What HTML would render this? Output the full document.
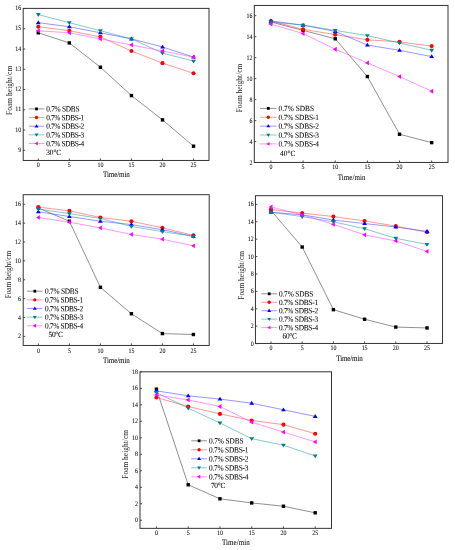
<!DOCTYPE html>
<html lang="en"><head><meta charset="utf-8"><title>Foam height vs time</title>
<style>html,body{margin:0;padding:0;background:#fff}svg{display:block}text{stroke:#000;stroke-width:.05px}</style></head>
<body>
<svg width="455" height="550" viewBox="0 0 455 550" font-family="'Liberation Serif', serif" fill="#000">
<rect width="455" height="550" fill="#ffffff"/>
<g>
<path d="M38.30,160.45v-2 M69.35,160.45v-2 M100.40,160.45v-2 M131.45,160.45v-2 M162.50,160.45v-2 M193.55,160.45v-2 M23.20,150.25h2 M23.20,130.00h2 M23.20,109.75h2 M23.20,89.50h2 M23.20,69.25h2 M23.20,49.00h2 M23.20,28.75h2 M23.20,8.50h2" stroke="#222" stroke-width="0.8" fill="none"/>
<text transform="translate(36.82,166.88) rotate(0.03)" font-size="6.9" text-anchor="start" textLength="2.97" lengthAdjust="spacingAndGlyphs">0</text>
<text transform="translate(67.87,166.88) rotate(0.03)" font-size="6.9" text-anchor="start" textLength="2.97" lengthAdjust="spacingAndGlyphs">5</text>
<text transform="translate(97.43,166.88) rotate(0.03)" font-size="6.9" text-anchor="start" textLength="5.93" lengthAdjust="spacingAndGlyphs">10</text>
<text transform="translate(128.48,166.88) rotate(0.03)" font-size="6.9" text-anchor="start" textLength="5.93" lengthAdjust="spacingAndGlyphs">15</text>
<text transform="translate(159.53,166.88) rotate(0.03)" font-size="6.9" text-anchor="start" textLength="5.93" lengthAdjust="spacingAndGlyphs">20</text>
<text transform="translate(190.58,166.88) rotate(0.03)" font-size="6.9" text-anchor="start" textLength="5.93" lengthAdjust="spacingAndGlyphs">25</text>
<text transform="translate(18.33,151.83) rotate(0.03)" font-size="6.9" text-anchor="start" textLength="2.97" lengthAdjust="spacingAndGlyphs">9</text>
<text transform="translate(15.37,131.58) rotate(0.03)" font-size="6.9" text-anchor="start" textLength="5.93" lengthAdjust="spacingAndGlyphs">10</text>
<text transform="translate(15.37,111.33) rotate(0.03)" font-size="6.9" text-anchor="start" textLength="5.93" lengthAdjust="spacingAndGlyphs">11</text>
<text transform="translate(15.37,91.08) rotate(0.03)" font-size="6.9" text-anchor="start" textLength="5.93" lengthAdjust="spacingAndGlyphs">12</text>
<text transform="translate(15.37,70.83) rotate(0.03)" font-size="6.9" text-anchor="start" textLength="5.93" lengthAdjust="spacingAndGlyphs">13</text>
<text transform="translate(15.37,50.58) rotate(0.03)" font-size="6.9" text-anchor="start" textLength="5.93" lengthAdjust="spacingAndGlyphs">14</text>
<text transform="translate(15.37,30.33) rotate(0.03)" font-size="6.9" text-anchor="start" textLength="5.93" lengthAdjust="spacingAndGlyphs">15</text>
<text transform="translate(15.37,10.08) rotate(0.03)" font-size="6.9" text-anchor="start" textLength="5.93" lengthAdjust="spacingAndGlyphs">16</text>
<polyline points="38.30,32.80 69.35,42.92 100.40,67.23 131.45,95.58 162.50,119.88 193.55,146.20" fill="none" stroke="#222222" stroke-width="0.5"/>
<rect x="36.60" y="31.10" width="3.40" height="3.40" fill="#000000"/>
<rect x="67.65" y="41.22" width="3.40" height="3.40" fill="#000000"/>
<rect x="98.70" y="65.53" width="3.40" height="3.40" fill="#000000"/>
<rect x="129.75" y="93.88" width="3.40" height="3.40" fill="#000000"/>
<rect x="160.80" y="118.17" width="3.40" height="3.40" fill="#000000"/>
<rect x="191.85" y="144.50" width="3.40" height="3.40" fill="#000000"/>
<polyline points="38.30,26.73 69.35,30.77 100.40,36.85 131.45,51.02 162.50,63.17 193.55,73.30" fill="none" stroke="#ff3030" stroke-width="0.5"/>
<circle cx="38.30" cy="26.73" r="2.05" fill="#ff0000"/>
<circle cx="69.35" cy="30.77" r="2.05" fill="#ff0000"/>
<circle cx="100.40" cy="36.85" r="2.05" fill="#ff0000"/>
<circle cx="131.45" cy="51.02" r="2.05" fill="#ff0000"/>
<circle cx="162.50" cy="63.17" r="2.05" fill="#ff0000"/>
<circle cx="193.55" cy="73.30" r="2.05" fill="#ff0000"/>
<polyline points="38.30,22.67 69.35,26.73 100.40,32.80 131.45,38.88 162.50,46.98 193.55,57.10" fill="none" stroke="#3030ff" stroke-width="0.5"/>
<polygon points="38.30,20.32 40.70,24.17 35.90,24.17" fill="#0000ff"/>
<polygon points="69.35,24.38 71.75,28.23 66.95,28.23" fill="#0000ff"/>
<polygon points="100.40,30.45 102.80,34.30 98.00,34.30" fill="#0000ff"/>
<polygon points="131.45,36.52 133.85,40.38 129.05,40.38" fill="#0000ff"/>
<polygon points="162.50,44.63 164.90,48.48 160.10,48.48" fill="#0000ff"/>
<polygon points="193.55,54.75 195.95,58.60 191.15,58.60" fill="#0000ff"/>
<polyline points="38.30,14.58 69.35,22.67 100.40,30.77 131.45,38.88 162.50,53.05 193.55,61.15" fill="none" stroke="#109090" stroke-width="0.5"/>
<polygon points="38.30,16.93 40.70,13.08 35.90,13.08" fill="#008080"/>
<polygon points="69.35,25.02 71.75,21.17 66.95,21.17" fill="#008080"/>
<polygon points="100.40,33.12 102.80,29.27 98.00,29.27" fill="#008080"/>
<polygon points="131.45,41.23 133.85,37.38 129.05,37.38" fill="#008080"/>
<polygon points="162.50,55.40 164.90,51.55 160.10,51.55" fill="#008080"/>
<polygon points="193.55,63.50 195.95,59.65 191.15,59.65" fill="#008080"/>
<polyline points="38.30,30.77 69.35,32.80 100.40,38.88 131.45,44.95 162.50,51.02 193.55,57.10" fill="none" stroke="#ff30ff" stroke-width="0.5"/>
<polygon points="35.95,30.77 39.80,28.37 39.80,33.17" fill="#ff00ff"/>
<polygon points="67.00,32.80 70.85,30.40 70.85,35.20" fill="#ff00ff"/>
<polygon points="98.05,38.88 101.90,36.48 101.90,41.27" fill="#ff00ff"/>
<polygon points="129.10,44.95 132.95,42.55 132.95,47.35" fill="#ff00ff"/>
<polygon points="160.15,51.02 164.00,48.62 164.00,53.42" fill="#ff00ff"/>
<polygon points="191.20,57.10 195.05,54.70 195.05,59.50" fill="#ff00ff"/>
<rect x="23.20" y="8.40" width="185.80" height="152.05" fill="none" stroke="#333" stroke-width="1"/>
<path d="M28.80,108.90H44.20" stroke="#222222" stroke-width="0.5"/>
<rect x="35.11" y="107.51" width="2.79" height="2.79" fill="#000000"/>
<text transform="translate(46.20,111.54) rotate(0.03) scale(0.92,1)" font-size="8.0" text-anchor="start" textLength="36.30" lengthAdjust="spacing">0.7% SDBS</text>
<path d="M28.80,117.55H44.20" stroke="#ff3030" stroke-width="0.5"/>
<circle cx="36.50" cy="117.55" r="1.68" fill="#ff0000"/>
<text transform="translate(46.20,120.19) rotate(0.03) scale(0.92,1)" font-size="8.0" text-anchor="start" textLength="41.30" lengthAdjust="spacing">0.7% SDBS-1</text>
<path d="M28.80,126.20H44.20" stroke="#3030ff" stroke-width="0.5"/>
<polygon points="36.50,124.27 38.47,127.43 34.53,127.43" fill="#0000ff"/>
<text transform="translate(46.20,128.84) rotate(0.03) scale(0.92,1)" font-size="8.0" text-anchor="start" textLength="41.30" lengthAdjust="spacing">0.7% SDBS-2</text>
<path d="M28.80,134.85H44.20" stroke="#109090" stroke-width="0.5"/>
<polygon points="36.50,136.78 38.47,133.62 34.53,133.62" fill="#008080"/>
<text transform="translate(46.20,137.49) rotate(0.03) scale(0.92,1)" font-size="8.0" text-anchor="start" textLength="41.30" lengthAdjust="spacing">0.7% SDBS-3</text>
<path d="M28.80,143.50H44.20" stroke="#ff30ff" stroke-width="0.5"/>
<polygon points="34.57,143.50 37.73,141.53 37.73,145.47" fill="#ff00ff"/>
<text transform="translate(46.20,146.14) rotate(0.03) scale(0.92,1)" font-size="8.0" text-anchor="start" textLength="41.30" lengthAdjust="spacing">0.7% SDBS-4</text>
<text transform="translate(46.30,154.94) rotate(0.03) scale(0.92,1)" font-size="8.0" text-anchor="start" textLength="16.09" lengthAdjust="spacing">30°C</text>
<text transform="translate(103.00,177.25) rotate(0.03) scale(0.86,1)" font-size="8.2" text-anchor="start" textLength="31.16" lengthAdjust="spacing">Time/min</text>
<text transform="translate(11.80,114.90) rotate(-90) scale(0.94,1)" font-size="7.8" textLength="52.13" lengthAdjust="spacing" style="stroke:none" fill="#2b2b2b">Foam height/cm</text>
</g>
<g>
<path d="M270.90,162.45v-2 M303.06,162.45v-2 M335.22,162.45v-2 M367.38,162.45v-2 M399.54,162.45v-2 M431.70,162.45v-2 M254.30,162.56h2 M254.30,141.58h2 M254.30,120.60h2 M254.30,99.62h2 M254.30,78.64h2 M254.30,57.66h2 M254.30,36.68h2 M254.30,15.70h2" stroke="#222" stroke-width="0.8" fill="none"/>
<text transform="translate(269.42,168.98) rotate(0.03)" font-size="6.9" text-anchor="start" textLength="2.97" lengthAdjust="spacingAndGlyphs">0</text>
<text transform="translate(301.58,168.98) rotate(0.03)" font-size="6.9" text-anchor="start" textLength="2.97" lengthAdjust="spacingAndGlyphs">5</text>
<text transform="translate(332.25,168.98) rotate(0.03)" font-size="6.9" text-anchor="start" textLength="5.93" lengthAdjust="spacingAndGlyphs">10</text>
<text transform="translate(364.41,168.98) rotate(0.03)" font-size="6.9" text-anchor="start" textLength="5.93" lengthAdjust="spacingAndGlyphs">15</text>
<text transform="translate(396.57,168.98) rotate(0.03)" font-size="6.9" text-anchor="start" textLength="5.93" lengthAdjust="spacingAndGlyphs">20</text>
<text transform="translate(428.73,168.98) rotate(0.03)" font-size="6.9" text-anchor="start" textLength="5.93" lengthAdjust="spacingAndGlyphs">25</text>
<text transform="translate(249.53,164.54) rotate(0.03)" font-size="6.9" text-anchor="start" textLength="2.97" lengthAdjust="spacingAndGlyphs">2</text>
<text transform="translate(249.53,143.56) rotate(0.03)" font-size="6.9" text-anchor="start" textLength="2.97" lengthAdjust="spacingAndGlyphs">4</text>
<text transform="translate(249.53,122.58) rotate(0.03)" font-size="6.9" text-anchor="start" textLength="2.97" lengthAdjust="spacingAndGlyphs">6</text>
<text transform="translate(249.53,101.60) rotate(0.03)" font-size="6.9" text-anchor="start" textLength="2.97" lengthAdjust="spacingAndGlyphs">8</text>
<text transform="translate(246.57,80.62) rotate(0.03)" font-size="6.9" text-anchor="start" textLength="5.93" lengthAdjust="spacingAndGlyphs">10</text>
<text transform="translate(246.57,59.64) rotate(0.03)" font-size="6.9" text-anchor="start" textLength="5.93" lengthAdjust="spacingAndGlyphs">12</text>
<text transform="translate(246.57,38.66) rotate(0.03)" font-size="6.9" text-anchor="start" textLength="5.93" lengthAdjust="spacingAndGlyphs">14</text>
<text transform="translate(246.57,17.68) rotate(0.03)" font-size="6.9" text-anchor="start" textLength="5.93" lengthAdjust="spacingAndGlyphs">16</text>
<polyline points="270.90,21.99 303.06,30.39 335.22,38.78 367.38,76.54 399.54,134.24 431.70,142.63" fill="none" stroke="#222222" stroke-width="0.5"/>
<rect x="269.20" y="20.29" width="3.40" height="3.40" fill="#000000"/>
<rect x="301.36" y="28.69" width="3.40" height="3.40" fill="#000000"/>
<rect x="333.52" y="37.08" width="3.40" height="3.40" fill="#000000"/>
<rect x="365.68" y="74.84" width="3.40" height="3.40" fill="#000000"/>
<rect x="397.84" y="132.54" width="3.40" height="3.40" fill="#000000"/>
<rect x="430.00" y="140.93" width="3.40" height="3.40" fill="#000000"/>
<polyline points="270.90,20.95 303.06,29.34 335.22,34.58 367.38,39.83 399.54,41.92 431.70,46.12" fill="none" stroke="#ff3030" stroke-width="0.5"/>
<circle cx="270.90" cy="20.95" r="2.05" fill="#ff0000"/>
<circle cx="303.06" cy="29.34" r="2.05" fill="#ff0000"/>
<circle cx="335.22" cy="34.58" r="2.05" fill="#ff0000"/>
<circle cx="367.38" cy="39.83" r="2.05" fill="#ff0000"/>
<circle cx="399.54" cy="41.92" r="2.05" fill="#ff0000"/>
<circle cx="431.70" cy="46.12" r="2.05" fill="#ff0000"/>
<polyline points="270.90,20.95 303.06,25.14 335.22,31.43 367.38,45.07 399.54,50.32 431.70,56.61" fill="none" stroke="#3030ff" stroke-width="0.5"/>
<polygon points="270.90,18.59 273.30,22.45 268.50,22.45" fill="#0000ff"/>
<polygon points="303.06,22.79 305.46,26.64 300.66,26.64" fill="#0000ff"/>
<polygon points="335.22,29.08 337.62,32.94 332.82,32.94" fill="#0000ff"/>
<polygon points="367.38,42.72 369.78,46.57 364.98,46.57" fill="#0000ff"/>
<polygon points="399.54,47.97 401.94,51.82 397.14,51.82" fill="#0000ff"/>
<polygon points="431.70,54.26 434.10,58.11 429.30,58.11" fill="#0000ff"/>
<polyline points="270.90,21.99 303.06,25.14 335.22,30.39 367.38,35.63 399.54,42.97 431.70,50.32" fill="none" stroke="#109090" stroke-width="0.5"/>
<polygon points="270.90,24.34 273.30,20.49 268.50,20.49" fill="#008080"/>
<polygon points="303.06,27.49 305.46,23.64 300.66,23.64" fill="#008080"/>
<polygon points="335.22,32.74 337.62,28.89 332.82,28.89" fill="#008080"/>
<polygon points="367.38,37.98 369.78,34.13 364.98,34.13" fill="#008080"/>
<polygon points="399.54,45.32 401.94,41.47 397.14,41.47" fill="#008080"/>
<polygon points="431.70,52.67 434.10,48.82 429.30,48.82" fill="#008080"/>
<polyline points="270.90,24.09 303.06,33.53 335.22,49.27 367.38,62.91 399.54,76.54 431.70,91.23" fill="none" stroke="#ff30ff" stroke-width="0.5"/>
<polygon points="268.55,24.09 272.40,21.69 272.40,26.49" fill="#ff00ff"/>
<polygon points="300.71,33.53 304.56,31.13 304.56,35.93" fill="#ff00ff"/>
<polygon points="332.87,49.27 336.72,46.87 336.72,51.67" fill="#ff00ff"/>
<polygon points="365.03,62.91 368.88,60.51 368.88,65.31" fill="#ff00ff"/>
<polygon points="397.19,76.54 401.04,74.14 401.04,78.94" fill="#ff00ff"/>
<polygon points="429.35,91.23 433.20,88.83 433.20,93.63" fill="#ff00ff"/>
<rect x="254.30" y="5.45" width="193.70" height="157.00" fill="none" stroke="#333" stroke-width="1"/>
<path d="M260.10,108.40H276.50" stroke="#222222" stroke-width="0.5"/>
<rect x="266.91" y="107.01" width="2.79" height="2.79" fill="#000000"/>
<text transform="translate(278.50,111.04) rotate(0.03) scale(0.92,1)" font-size="8.0" text-anchor="start" textLength="38.69" lengthAdjust="spacing">0.7% SDBS</text>
<path d="M260.10,117.27H276.50" stroke="#ff3030" stroke-width="0.5"/>
<circle cx="268.30" cy="117.27" r="1.68" fill="#ff0000"/>
<text transform="translate(278.50,119.91) rotate(0.03) scale(0.92,1)" font-size="8.0" text-anchor="start" textLength="44.02" lengthAdjust="spacing">0.7% SDBS-1</text>
<path d="M260.10,126.14H276.50" stroke="#3030ff" stroke-width="0.5"/>
<polygon points="268.30,124.21 270.27,127.37 266.33,127.37" fill="#0000ff"/>
<text transform="translate(278.50,128.78) rotate(0.03) scale(0.92,1)" font-size="8.0" text-anchor="start" textLength="44.02" lengthAdjust="spacing">0.7% SDBS-2</text>
<path d="M260.10,135.01H276.50" stroke="#109090" stroke-width="0.5"/>
<polygon points="268.30,136.94 270.27,133.78 266.33,133.78" fill="#008080"/>
<text transform="translate(278.50,137.65) rotate(0.03) scale(0.92,1)" font-size="8.0" text-anchor="start" textLength="44.02" lengthAdjust="spacing">0.7% SDBS-3</text>
<path d="M260.10,143.88H276.50" stroke="#ff30ff" stroke-width="0.5"/>
<polygon points="266.37,143.88 269.53,141.91 269.53,145.85" fill="#ff00ff"/>
<text transform="translate(278.50,146.52) rotate(0.03) scale(0.92,1)" font-size="8.0" text-anchor="start" textLength="44.02" lengthAdjust="spacing">0.7% SDBS-4</text>
<text transform="translate(280.10,155.94) rotate(0.03) scale(0.92,1)" font-size="8.0" text-anchor="start" textLength="16.52" lengthAdjust="spacing">40°C</text>
<text transform="translate(337.75,179.95) rotate(0.03) scale(0.86,1)" font-size="8.2" text-anchor="start" textLength="32.21" lengthAdjust="spacing">Time/min</text>
<text transform="translate(241.90,112.25) rotate(-90) scale(0.94,1)" font-size="7.8" textLength="51.60" lengthAdjust="spacing" style="stroke:none" fill="#2b2b2b">Foam height/cm</text>
</g>
<g>
<path d="M38.40,345.45v-2 M69.40,345.45v-2 M100.40,345.45v-2 M131.40,345.45v-2 M162.40,345.45v-2 M193.40,345.45v-2 M23.20,336.41h2 M23.20,317.53h2 M23.20,298.65h2 M23.20,279.77h2 M23.20,260.89h2 M23.20,242.01h2 M23.20,223.13h2 M23.20,204.25h2" stroke="#222" stroke-width="0.8" fill="none"/>
<text transform="translate(36.92,352.68) rotate(0.03)" font-size="6.9" text-anchor="start" textLength="2.97" lengthAdjust="spacingAndGlyphs">0</text>
<text transform="translate(67.92,352.68) rotate(0.03)" font-size="6.9" text-anchor="start" textLength="2.97" lengthAdjust="spacingAndGlyphs">5</text>
<text transform="translate(97.43,352.68) rotate(0.03)" font-size="6.9" text-anchor="start" textLength="5.93" lengthAdjust="spacingAndGlyphs">10</text>
<text transform="translate(128.43,352.68) rotate(0.03)" font-size="6.9" text-anchor="start" textLength="5.93" lengthAdjust="spacingAndGlyphs">15</text>
<text transform="translate(159.43,352.68) rotate(0.03)" font-size="6.9" text-anchor="start" textLength="5.93" lengthAdjust="spacingAndGlyphs">20</text>
<text transform="translate(190.43,352.68) rotate(0.03)" font-size="6.9" text-anchor="start" textLength="5.93" lengthAdjust="spacingAndGlyphs">25</text>
<text transform="translate(18.03,338.39) rotate(0.03)" font-size="6.9" text-anchor="start" textLength="2.97" lengthAdjust="spacingAndGlyphs">2</text>
<text transform="translate(18.03,319.51) rotate(0.03)" font-size="6.9" text-anchor="start" textLength="2.97" lengthAdjust="spacingAndGlyphs">4</text>
<text transform="translate(18.03,300.63) rotate(0.03)" font-size="6.9" text-anchor="start" textLength="2.97" lengthAdjust="spacingAndGlyphs">6</text>
<text transform="translate(18.03,281.75) rotate(0.03)" font-size="6.9" text-anchor="start" textLength="2.97" lengthAdjust="spacingAndGlyphs">8</text>
<text transform="translate(15.07,262.87) rotate(0.03)" font-size="6.9" text-anchor="start" textLength="5.93" lengthAdjust="spacingAndGlyphs">10</text>
<text transform="translate(15.07,243.99) rotate(0.03)" font-size="6.9" text-anchor="start" textLength="5.93" lengthAdjust="spacingAndGlyphs">12</text>
<text transform="translate(15.07,225.11) rotate(0.03)" font-size="6.9" text-anchor="start" textLength="5.93" lengthAdjust="spacingAndGlyphs">14</text>
<text transform="translate(15.07,206.23) rotate(0.03)" font-size="6.9" text-anchor="start" textLength="5.93" lengthAdjust="spacingAndGlyphs">16</text>
<polyline points="38.40,208.03 69.40,221.24 100.40,287.32 131.40,313.75 162.40,333.58 193.40,334.52" fill="none" stroke="#222222" stroke-width="0.5"/>
<rect x="36.70" y="206.33" width="3.40" height="3.40" fill="#000000"/>
<rect x="67.70" y="219.54" width="3.40" height="3.40" fill="#000000"/>
<rect x="98.70" y="285.62" width="3.40" height="3.40" fill="#000000"/>
<rect x="129.70" y="312.05" width="3.40" height="3.40" fill="#000000"/>
<rect x="160.70" y="331.88" width="3.40" height="3.40" fill="#000000"/>
<rect x="191.70" y="332.82" width="3.40" height="3.40" fill="#000000"/>
<polyline points="38.40,207.08 69.40,210.86 100.40,217.47 131.40,221.24 162.40,227.85 193.40,235.40" fill="none" stroke="#ff3030" stroke-width="0.5"/>
<circle cx="38.40" cy="207.08" r="2.05" fill="#ff0000"/>
<circle cx="69.40" cy="210.86" r="2.05" fill="#ff0000"/>
<circle cx="100.40" cy="217.47" r="2.05" fill="#ff0000"/>
<circle cx="131.40" cy="221.24" r="2.05" fill="#ff0000"/>
<circle cx="162.40" cy="227.85" r="2.05" fill="#ff0000"/>
<circle cx="193.40" cy="235.40" r="2.05" fill="#ff0000"/>
<polyline points="38.40,211.80 69.40,216.52 100.40,221.24 131.40,224.55 162.40,229.74 193.40,236.35" fill="none" stroke="#3030ff" stroke-width="0.5"/>
<polygon points="38.40,209.45 40.80,213.30 36.00,213.30" fill="#0000ff"/>
<polygon points="69.40,214.17 71.80,218.02 67.00,218.02" fill="#0000ff"/>
<polygon points="100.40,218.89 102.80,222.74 98.00,222.74" fill="#0000ff"/>
<polygon points="131.40,222.20 133.80,226.05 129.00,226.05" fill="#0000ff"/>
<polygon points="162.40,227.39 164.80,231.24 160.00,231.24" fill="#0000ff"/>
<polygon points="193.40,234.00 195.80,237.85 191.00,237.85" fill="#0000ff"/>
<polyline points="38.40,208.97 69.40,213.69 100.40,218.41 131.40,226.43 162.40,231.63 193.40,236.35" fill="none" stroke="#109090" stroke-width="0.5"/>
<polygon points="38.40,211.32 40.80,207.47 36.00,207.47" fill="#008080"/>
<polygon points="69.40,216.04 71.80,212.19 67.00,212.19" fill="#008080"/>
<polygon points="100.40,220.76 102.80,216.91 98.00,216.91" fill="#008080"/>
<polygon points="131.40,228.78 133.80,224.93 129.00,224.93" fill="#008080"/>
<polygon points="162.40,233.98 164.80,230.13 160.00,230.13" fill="#008080"/>
<polygon points="193.40,238.70 195.80,234.85 191.00,234.85" fill="#008080"/>
<polyline points="38.40,217.47 69.40,222.19 100.40,227.85 131.40,234.46 162.40,239.18 193.40,245.79" fill="none" stroke="#ff30ff" stroke-width="0.5"/>
<polygon points="36.05,217.47 39.90,215.07 39.90,219.87" fill="#ff00ff"/>
<polygon points="67.05,222.19 70.90,219.79 70.90,224.59" fill="#ff00ff"/>
<polygon points="98.05,227.85 101.90,225.45 101.90,230.25" fill="#ff00ff"/>
<polygon points="129.05,234.46 132.90,232.06 132.90,236.86" fill="#ff00ff"/>
<polygon points="160.05,239.18 163.90,236.78 163.90,241.58" fill="#ff00ff"/>
<polygon points="191.05,245.79 194.90,243.39 194.90,248.19" fill="#ff00ff"/>
<rect x="23.20" y="194.70" width="186.00" height="150.75" fill="none" stroke="#333" stroke-width="1"/>
<path d="M27.10,291.20H42.50" stroke="#222222" stroke-width="0.5"/>
<rect x="33.41" y="289.81" width="2.79" height="2.79" fill="#000000"/>
<text transform="translate(45.10,293.84) rotate(0.03) scale(0.92,1)" font-size="8.0" text-anchor="start" textLength="36.30" lengthAdjust="spacing">0.7% SDBS</text>
<path d="M27.10,299.85H42.50" stroke="#ff3030" stroke-width="0.5"/>
<circle cx="34.80" cy="299.85" r="1.68" fill="#ff0000"/>
<text transform="translate(45.10,302.49) rotate(0.03) scale(0.92,1)" font-size="8.0" text-anchor="start" textLength="41.30" lengthAdjust="spacing">0.7% SDBS-1</text>
<path d="M27.10,308.50H42.50" stroke="#3030ff" stroke-width="0.5"/>
<polygon points="34.80,306.57 36.77,309.73 32.83,309.73" fill="#0000ff"/>
<text transform="translate(45.10,311.14) rotate(0.03) scale(0.92,1)" font-size="8.0" text-anchor="start" textLength="41.30" lengthAdjust="spacing">0.7% SDBS-2</text>
<path d="M27.10,317.15H42.50" stroke="#109090" stroke-width="0.5"/>
<polygon points="34.80,319.08 36.77,315.92 32.83,315.92" fill="#008080"/>
<text transform="translate(45.10,319.79) rotate(0.03) scale(0.92,1)" font-size="8.0" text-anchor="start" textLength="41.30" lengthAdjust="spacing">0.7% SDBS-3</text>
<path d="M27.10,325.80H42.50" stroke="#ff30ff" stroke-width="0.5"/>
<polygon points="32.87,325.80 36.03,323.83 36.03,327.77" fill="#ff00ff"/>
<text transform="translate(45.10,328.44) rotate(0.03) scale(0.92,1)" font-size="8.0" text-anchor="start" textLength="41.30" lengthAdjust="spacing">0.7% SDBS-4</text>
<text transform="translate(48.50,336.94) rotate(0.03) scale(0.92,1)" font-size="8.0" text-anchor="start" textLength="15.65" lengthAdjust="spacing">50°C</text>
<text transform="translate(103.00,362.55) rotate(0.03) scale(0.86,1)" font-size="8.2" text-anchor="start" textLength="31.16" lengthAdjust="spacing">Time/min</text>
<text transform="translate(11.10,298.35) rotate(-90) scale(0.94,1)" font-size="7.8" textLength="50.53" lengthAdjust="spacing" style="stroke:none" fill="#2b2b2b">Foam height/cm</text>
</g>
<g>
<path d="M271.00,343.45v-2 M302.20,343.45v-2 M333.40,343.45v-2 M364.60,343.45v-2 M395.80,343.45v-2 M427.00,343.45v-2 M255.45,343.60h2 M255.45,326.20h2 M255.45,308.80h2 M255.45,291.40h2 M255.45,274.00h2 M255.45,256.60h2 M255.45,239.20h2 M255.45,221.80h2 M255.45,204.40h2" stroke="#222" stroke-width="0.8" fill="none"/>
<text transform="translate(269.52,350.18) rotate(0.03)" font-size="6.9" text-anchor="start" textLength="2.97" lengthAdjust="spacingAndGlyphs">0</text>
<text transform="translate(300.72,350.18) rotate(0.03)" font-size="6.9" text-anchor="start" textLength="2.97" lengthAdjust="spacingAndGlyphs">5</text>
<text transform="translate(330.43,350.18) rotate(0.03)" font-size="6.9" text-anchor="start" textLength="5.93" lengthAdjust="spacingAndGlyphs">10</text>
<text transform="translate(361.63,350.18) rotate(0.03)" font-size="6.9" text-anchor="start" textLength="5.93" lengthAdjust="spacingAndGlyphs">15</text>
<text transform="translate(392.83,350.18) rotate(0.03)" font-size="6.9" text-anchor="start" textLength="5.93" lengthAdjust="spacingAndGlyphs">20</text>
<text transform="translate(424.03,350.18) rotate(0.03)" font-size="6.9" text-anchor="start" textLength="5.93" lengthAdjust="spacingAndGlyphs">25</text>
<text transform="translate(250.63,345.58) rotate(0.03)" font-size="6.9" text-anchor="start" textLength="2.97" lengthAdjust="spacingAndGlyphs">0</text>
<text transform="translate(250.63,328.18) rotate(0.03)" font-size="6.9" text-anchor="start" textLength="2.97" lengthAdjust="spacingAndGlyphs">2</text>
<text transform="translate(250.63,310.78) rotate(0.03)" font-size="6.9" text-anchor="start" textLength="2.97" lengthAdjust="spacingAndGlyphs">4</text>
<text transform="translate(250.63,293.38) rotate(0.03)" font-size="6.9" text-anchor="start" textLength="2.97" lengthAdjust="spacingAndGlyphs">6</text>
<text transform="translate(250.63,275.98) rotate(0.03)" font-size="6.9" text-anchor="start" textLength="2.97" lengthAdjust="spacingAndGlyphs">8</text>
<text transform="translate(247.67,258.58) rotate(0.03)" font-size="6.9" text-anchor="start" textLength="5.93" lengthAdjust="spacingAndGlyphs">10</text>
<text transform="translate(247.67,241.18) rotate(0.03)" font-size="6.9" text-anchor="start" textLength="5.93" lengthAdjust="spacingAndGlyphs">12</text>
<text transform="translate(247.67,223.78) rotate(0.03)" font-size="6.9" text-anchor="start" textLength="5.93" lengthAdjust="spacingAndGlyphs">14</text>
<text transform="translate(247.67,206.38) rotate(0.03)" font-size="6.9" text-anchor="start" textLength="5.93" lengthAdjust="spacingAndGlyphs">16</text>
<polyline points="271.00,210.49 302.20,247.03 333.40,309.67 364.60,319.24 395.80,327.07 427.00,327.94" fill="none" stroke="#222222" stroke-width="0.5"/>
<rect x="269.30" y="208.79" width="3.40" height="3.40" fill="#000000"/>
<rect x="300.50" y="245.33" width="3.40" height="3.40" fill="#000000"/>
<rect x="331.70" y="307.97" width="3.40" height="3.40" fill="#000000"/>
<rect x="362.90" y="317.54" width="3.40" height="3.40" fill="#000000"/>
<rect x="394.10" y="325.37" width="3.40" height="3.40" fill="#000000"/>
<rect x="425.30" y="326.24" width="3.40" height="3.40" fill="#000000"/>
<polyline points="271.00,209.62 302.20,213.10 333.40,216.58 364.60,220.93 395.80,226.15 427.00,232.24" fill="none" stroke="#ff3030" stroke-width="0.5"/>
<circle cx="271.00" cy="209.62" r="2.05" fill="#ff0000"/>
<circle cx="302.20" cy="213.10" r="2.05" fill="#ff0000"/>
<circle cx="333.40" cy="216.58" r="2.05" fill="#ff0000"/>
<circle cx="364.60" cy="220.93" r="2.05" fill="#ff0000"/>
<circle cx="395.80" cy="226.15" r="2.05" fill="#ff0000"/>
<circle cx="427.00" cy="232.24" r="2.05" fill="#ff0000"/>
<polyline points="271.00,212.23 302.20,214.84 333.40,220.06 364.60,223.54 395.80,227.02 427.00,231.37" fill="none" stroke="#3030ff" stroke-width="0.5"/>
<polygon points="271.00,209.88 273.40,213.73 268.60,213.73" fill="#0000ff"/>
<polygon points="302.20,212.49 304.60,216.34 299.80,216.34" fill="#0000ff"/>
<polygon points="333.40,217.71 335.80,221.56 331.00,221.56" fill="#0000ff"/>
<polygon points="364.60,221.19 367.00,225.04 362.20,225.04" fill="#0000ff"/>
<polygon points="395.80,224.67 398.20,228.52 393.40,228.52" fill="#0000ff"/>
<polygon points="427.00,229.02 429.40,232.87 424.60,232.87" fill="#0000ff"/>
<polyline points="271.00,212.23 302.20,216.58 333.40,221.80 364.60,228.76 395.80,238.33 427.00,244.42" fill="none" stroke="#109090" stroke-width="0.5"/>
<polygon points="271.00,214.58 273.40,210.73 268.60,210.73" fill="#008080"/>
<polygon points="302.20,218.93 304.60,215.08 299.80,215.08" fill="#008080"/>
<polygon points="333.40,224.15 335.80,220.30 331.00,220.30" fill="#008080"/>
<polygon points="364.60,231.11 367.00,227.26 362.20,227.26" fill="#008080"/>
<polygon points="395.80,240.68 398.20,236.83 393.40,236.83" fill="#008080"/>
<polygon points="427.00,246.77 429.40,242.92 424.60,242.92" fill="#008080"/>
<polyline points="271.00,207.01 302.20,214.84 333.40,224.41 364.60,234.85 395.80,240.94 427.00,251.38" fill="none" stroke="#ff30ff" stroke-width="0.5"/>
<polygon points="268.65,207.01 272.50,204.61 272.50,209.41" fill="#ff00ff"/>
<polygon points="299.85,214.84 303.70,212.44 303.70,217.24" fill="#ff00ff"/>
<polygon points="331.05,224.41 334.90,222.01 334.90,226.81" fill="#ff00ff"/>
<polygon points="362.25,234.85 366.10,232.45 366.10,237.25" fill="#ff00ff"/>
<polygon points="393.45,240.94 397.30,238.54 397.30,243.34" fill="#ff00ff"/>
<polygon points="424.65,251.38 428.50,248.98 428.50,253.78" fill="#ff00ff"/>
<rect x="255.45" y="195.70" width="187.10" height="147.75" fill="none" stroke="#333" stroke-width="1"/>
<path d="M261.30,293.80H277.10" stroke="#222222" stroke-width="0.5"/>
<rect x="267.81" y="292.41" width="2.79" height="2.79" fill="#000000"/>
<text transform="translate(278.90,296.44) rotate(0.03) scale(0.92,1)" font-size="8.0" text-anchor="start" textLength="37.45" lengthAdjust="spacing">0.7% SDBS</text>
<path d="M261.30,302.25H277.10" stroke="#ff3030" stroke-width="0.5"/>
<circle cx="269.20" cy="302.25" r="1.68" fill="#ff0000"/>
<text transform="translate(278.90,304.89) rotate(0.03) scale(0.92,1)" font-size="8.0" text-anchor="start" textLength="42.61" lengthAdjust="spacing">0.7% SDBS-1</text>
<path d="M261.30,310.70H277.10" stroke="#3030ff" stroke-width="0.5"/>
<polygon points="269.20,308.77 271.17,311.93 267.23,311.93" fill="#0000ff"/>
<text transform="translate(278.90,313.34) rotate(0.03) scale(0.92,1)" font-size="8.0" text-anchor="start" textLength="42.61" lengthAdjust="spacing">0.7% SDBS-2</text>
<path d="M261.30,319.15H277.10" stroke="#109090" stroke-width="0.5"/>
<polygon points="269.20,321.08 271.17,317.92 267.23,317.92" fill="#008080"/>
<text transform="translate(278.90,321.79) rotate(0.03) scale(0.92,1)" font-size="8.0" text-anchor="start" textLength="42.61" lengthAdjust="spacing">0.7% SDBS-3</text>
<path d="M261.30,327.60H277.10" stroke="#ff30ff" stroke-width="0.5"/>
<polygon points="267.27,327.60 270.43,325.63 270.43,329.57" fill="#ff00ff"/>
<text transform="translate(278.90,330.24) rotate(0.03) scale(0.92,1)" font-size="8.0" text-anchor="start" textLength="42.61" lengthAdjust="spacing">0.7% SDBS-4</text>
<text transform="translate(282.50,338.54) rotate(0.03) scale(0.92,1)" font-size="8.0" text-anchor="start" textLength="15.65" lengthAdjust="spacing">60°C</text>
<text transform="translate(336.25,360.55) rotate(0.03) scale(0.86,1)" font-size="8.2" text-anchor="start" textLength="30.81" lengthAdjust="spacing">Time/min</text>
<text transform="translate(243.70,299.75) rotate(-90) scale(0.94,1)" font-size="7.8" textLength="51.81" lengthAdjust="spacing" style="stroke:none" fill="#2b2b2b">Foam height/cm</text>
</g>
<g>
<path d="M156.45,528.35v-2 M188.20,528.35v-2 M219.95,528.35v-2 M251.70,528.35v-2 M283.45,528.35v-2 M315.20,528.35v-2 M140.00,520.22h2 M140.00,503.74h2 M140.00,487.26h2 M140.00,470.78h2 M140.00,454.30h2 M140.00,437.82h2 M140.00,421.34h2 M140.00,404.86h2 M140.00,388.38h2 M140.00,371.90h2" stroke="#222" stroke-width="0.8" fill="none"/>
<text transform="translate(154.97,534.78) rotate(0.03)" font-size="6.9" text-anchor="start" textLength="2.97" lengthAdjust="spacingAndGlyphs">0</text>
<text transform="translate(186.72,534.78) rotate(0.03)" font-size="6.9" text-anchor="start" textLength="2.97" lengthAdjust="spacingAndGlyphs">5</text>
<text transform="translate(216.98,534.78) rotate(0.03)" font-size="6.9" text-anchor="start" textLength="5.93" lengthAdjust="spacingAndGlyphs">10</text>
<text transform="translate(248.73,534.78) rotate(0.03)" font-size="6.9" text-anchor="start" textLength="5.93" lengthAdjust="spacingAndGlyphs">15</text>
<text transform="translate(280.48,534.78) rotate(0.03)" font-size="6.9" text-anchor="start" textLength="5.93" lengthAdjust="spacingAndGlyphs">20</text>
<text transform="translate(312.23,534.78) rotate(0.03)" font-size="6.9" text-anchor="start" textLength="5.93" lengthAdjust="spacingAndGlyphs">25</text>
<text transform="translate(135.03,522.20) rotate(0.03)" font-size="6.9" text-anchor="start" textLength="2.97" lengthAdjust="spacingAndGlyphs">0</text>
<text transform="translate(135.03,505.72) rotate(0.03)" font-size="6.9" text-anchor="start" textLength="2.97" lengthAdjust="spacingAndGlyphs">2</text>
<text transform="translate(135.03,489.24) rotate(0.03)" font-size="6.9" text-anchor="start" textLength="2.97" lengthAdjust="spacingAndGlyphs">4</text>
<text transform="translate(135.03,472.76) rotate(0.03)" font-size="6.9" text-anchor="start" textLength="2.97" lengthAdjust="spacingAndGlyphs">6</text>
<text transform="translate(135.03,456.28) rotate(0.03)" font-size="6.9" text-anchor="start" textLength="2.97" lengthAdjust="spacingAndGlyphs">8</text>
<text transform="translate(132.07,439.80) rotate(0.03)" font-size="6.9" text-anchor="start" textLength="5.93" lengthAdjust="spacingAndGlyphs">10</text>
<text transform="translate(132.07,423.32) rotate(0.03)" font-size="6.9" text-anchor="start" textLength="5.93" lengthAdjust="spacingAndGlyphs">12</text>
<text transform="translate(132.07,406.84) rotate(0.03)" font-size="6.9" text-anchor="start" textLength="5.93" lengthAdjust="spacingAndGlyphs">14</text>
<text transform="translate(132.07,390.36) rotate(0.03)" font-size="6.9" text-anchor="start" textLength="5.93" lengthAdjust="spacingAndGlyphs">16</text>
<text transform="translate(132.07,373.88) rotate(0.03)" font-size="6.9" text-anchor="start" textLength="5.93" lengthAdjust="spacingAndGlyphs">18</text>
<polyline points="156.45,389.20 188.20,484.79 219.95,498.80 251.70,502.92 283.45,506.21 315.20,512.80" fill="none" stroke="#222222" stroke-width="0.5"/>
<rect x="154.75" y="387.50" width="3.40" height="3.40" fill="#000000"/>
<rect x="186.50" y="483.09" width="3.40" height="3.40" fill="#000000"/>
<rect x="218.25" y="497.10" width="3.40" height="3.40" fill="#000000"/>
<rect x="250.00" y="501.22" width="3.40" height="3.40" fill="#000000"/>
<rect x="281.75" y="504.51" width="3.40" height="3.40" fill="#000000"/>
<rect x="313.50" y="511.10" width="3.40" height="3.40" fill="#000000"/>
<polyline points="156.45,397.44 188.20,406.51 219.95,413.92 251.70,420.52 283.45,424.64 315.20,433.70" fill="none" stroke="#ff3030" stroke-width="0.5"/>
<circle cx="156.45" cy="397.44" r="2.05" fill="#ff0000"/>
<circle cx="188.20" cy="406.51" r="2.05" fill="#ff0000"/>
<circle cx="219.95" cy="413.92" r="2.05" fill="#ff0000"/>
<circle cx="251.70" cy="420.52" r="2.05" fill="#ff0000"/>
<circle cx="283.45" cy="424.64" r="2.05" fill="#ff0000"/>
<circle cx="315.20" cy="433.70" r="2.05" fill="#ff0000"/>
<polyline points="156.45,390.85 188.20,395.80 219.95,399.09 251.70,403.21 283.45,409.80 315.20,416.40" fill="none" stroke="#3030ff" stroke-width="0.5"/>
<polygon points="156.45,388.50 158.85,392.35 154.05,392.35" fill="#0000ff"/>
<polygon points="188.20,393.45 190.60,397.30 185.80,397.30" fill="#0000ff"/>
<polygon points="219.95,396.74 222.35,400.59 217.55,400.59" fill="#0000ff"/>
<polygon points="251.70,400.86 254.10,404.71 249.30,404.71" fill="#0000ff"/>
<polygon points="283.45,407.45 285.85,411.30 281.05,411.30" fill="#0000ff"/>
<polygon points="315.20,414.05 317.60,417.90 312.80,417.90" fill="#0000ff"/>
<polyline points="156.45,392.50 188.20,408.16 219.95,422.99 251.70,438.64 283.45,445.24 315.20,455.95" fill="none" stroke="#109090" stroke-width="0.5"/>
<polygon points="156.45,394.85 158.85,391.00 154.05,391.00" fill="#008080"/>
<polygon points="188.20,410.51 190.60,406.66 185.80,406.66" fill="#008080"/>
<polygon points="219.95,425.34 222.35,421.49 217.55,421.49" fill="#008080"/>
<polygon points="251.70,440.99 254.10,437.14 249.30,437.14" fill="#008080"/>
<polygon points="283.45,447.59 285.85,443.74 281.05,443.74" fill="#008080"/>
<polygon points="315.20,458.30 317.60,454.45 312.80,454.45" fill="#008080"/>
<polyline points="156.45,394.97 188.20,399.92 219.95,406.51 251.70,422.16 283.45,432.05 315.20,441.94" fill="none" stroke="#ff30ff" stroke-width="0.5"/>
<polygon points="154.10,394.97 157.95,392.57 157.95,397.37" fill="#ff00ff"/>
<polygon points="185.85,399.92 189.70,397.52 189.70,402.32" fill="#ff00ff"/>
<polygon points="217.60,406.51 221.45,404.11 221.45,408.91" fill="#ff00ff"/>
<polygon points="249.35,422.16 253.20,419.76 253.20,424.56" fill="#ff00ff"/>
<polygon points="281.10,432.05 284.95,429.65 284.95,434.45" fill="#ff00ff"/>
<polygon points="312.85,441.94 316.70,439.54 316.70,444.34" fill="#ff00ff"/>
<rect x="140.00" y="371.80" width="191.50" height="156.55" fill="none" stroke="#333" stroke-width="1"/>
<path d="M191.20,440.80H207.00" stroke="#222222" stroke-width="0.5"/>
<rect x="197.71" y="439.41" width="2.79" height="2.79" fill="#000000"/>
<text transform="translate(209.00,443.44) rotate(0.03) scale(0.92,1)" font-size="8.0" text-anchor="start" textLength="37.74" lengthAdjust="spacing">0.7% SDBS</text>
<path d="M191.20,449.80H207.00" stroke="#ff3030" stroke-width="0.5"/>
<circle cx="199.10" cy="449.80" r="1.68" fill="#ff0000"/>
<text transform="translate(209.00,452.44) rotate(0.03) scale(0.92,1)" font-size="8.0" text-anchor="start" textLength="42.93" lengthAdjust="spacing">0.7% SDBS-1</text>
<path d="M191.20,458.80H207.00" stroke="#3030ff" stroke-width="0.5"/>
<polygon points="199.10,456.87 201.07,460.03 197.13,460.03" fill="#0000ff"/>
<text transform="translate(209.00,461.44) rotate(0.03) scale(0.92,1)" font-size="8.0" text-anchor="start" textLength="42.93" lengthAdjust="spacing">0.7% SDBS-2</text>
<path d="M191.20,467.80H207.00" stroke="#109090" stroke-width="0.5"/>
<polygon points="199.10,469.73 201.07,466.57 197.13,466.57" fill="#008080"/>
<text transform="translate(209.00,470.44) rotate(0.03) scale(0.92,1)" font-size="8.0" text-anchor="start" textLength="42.93" lengthAdjust="spacing">0.7% SDBS-3</text>
<path d="M191.20,476.80H207.00" stroke="#ff30ff" stroke-width="0.5"/>
<polygon points="197.17,476.80 200.33,474.83 200.33,478.77" fill="#ff00ff"/>
<text transform="translate(209.00,479.44) rotate(0.03) scale(0.92,1)" font-size="8.0" text-anchor="start" textLength="42.93" lengthAdjust="spacing">0.7% SDBS-4</text>
<text transform="translate(210.90,487.94) rotate(0.03) scale(0.92,1)" font-size="8.0" text-anchor="start" textLength="15.76" lengthAdjust="spacing">70°C</text>
<text transform="translate(221.95,544.95) rotate(0.03) scale(0.86,1)" font-size="8.2" text-anchor="start" textLength="32.44" lengthAdjust="spacing">Time/min</text>
<text transform="translate(128.00,478.70) rotate(-90) scale(0.94,1)" font-size="7.8" textLength="51.70" lengthAdjust="spacing" style="stroke:none" fill="#2b2b2b">Foam height/cm</text>
</g>
</svg>
</body></html>
